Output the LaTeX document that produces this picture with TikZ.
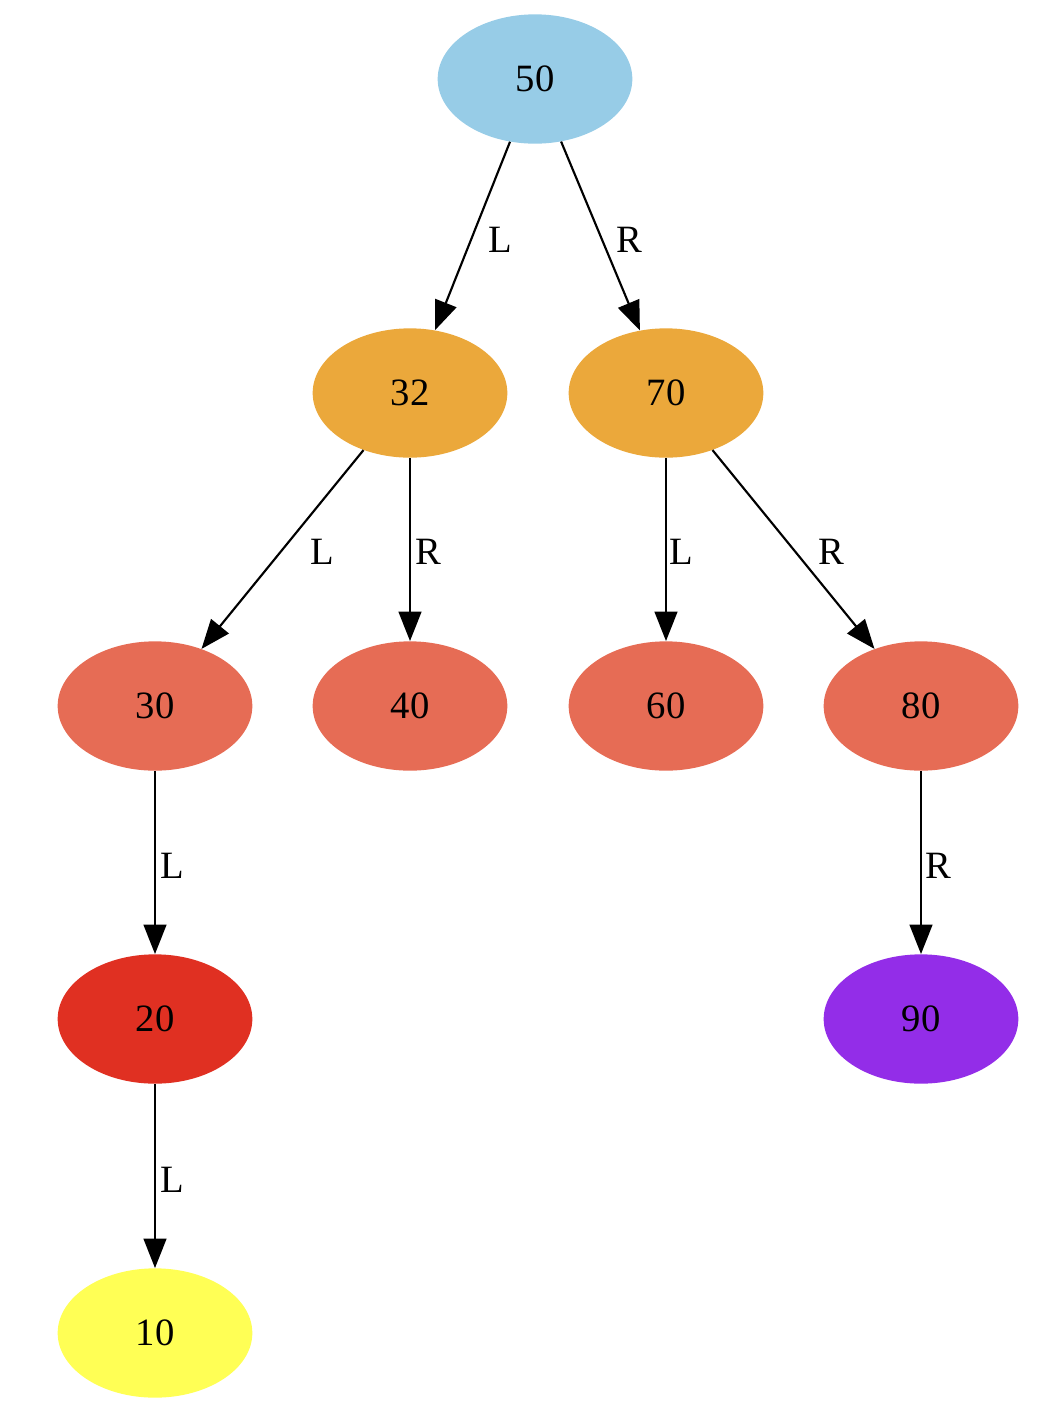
\documentclass[tikz,border=0pt]{standalone}
\usepackage{fontspec}
\setmainfont{Liberation Serif}
\usetikzlibrary{shapes.geometric,arrows.meta}
\definecolor{cblue}{HTML}{97CCE7}
\definecolor{corange}{HTML}{EBA83B}
\definecolor{csalmon}{HTML}{E66C55}
\definecolor{cred}{HTML}{E03022}
\definecolor{cpurple}{HTML}{932DE8}
\definecolor{cyellow}{HTML}{FFFF55}
\begin{document}
\begin{tikzpicture}[x=0.75pt,y=-0.75pt,
  nd/.style={ellipse,draw=none,minimum width=146pt,minimum height=97pt,inner sep=0pt,font=\fontsize{29}{30}\selectfont},
  lb/.style={font=\fontsize{29}{30}\selectfont,inner sep=0pt},
  ed/.style={line width=1.6pt,-{Triangle[length=22pt,width=17pt]}}]
\useasboundingbox (0,0) rectangle (1062,1422);
\node[nd,fill=cblue] (n50) at (535,79) {50};
\node[nd,fill=corange] (n32) at (410,393) {32};
\node[nd,fill=corange] (n70) at (666,393) {70};
\node[nd,fill=csalmon] (n30) at (155,706) {30};
\node[nd,fill=csalmon] (n40) at (410,706) {40};
\node[nd,fill=csalmon] (n60) at (666,706) {60};
\node[nd,fill=csalmon] (n80) at (921,706) {80};
\node[nd,fill=cred] (n20) at (155,1019) {20};
\node[nd,fill=cpurple] (n90) at (921,1019) {90};
\node[nd,fill=cyellow] (n10) at (155,1333) {10};
\draw[ed] (n50) -- (n32);
\draw[ed] (n50) -- (n70);
\draw[ed] (n32) -- (n30);
\draw[ed] (n32) -- (n40);
\draw[ed] (n70) -- (n60);
\draw[ed] (n70) -- (n80);
\draw[ed] (n30) -- (n20);
\draw[ed] (n80) -- (n90);
\draw[ed] (n20) -- (n10);
\node[lb] (l1) at (500,240) {L};
\node[lb] (l2) at (629,240) {R};
\node[lb] (l3) at (322,552) {L};
\node[lb] (l4) at (428,552) {R};
\node[lb] (l5) at (681,552) {L};
\node[lb] (l6) at (831,552) {R};
\node[lb] (l7) at (172,866) {L};
\node[lb] (l8) at (938,866) {R};
\node[lb] (l9) at (172,1180) {L};
\end{tikzpicture}
\end{document}
